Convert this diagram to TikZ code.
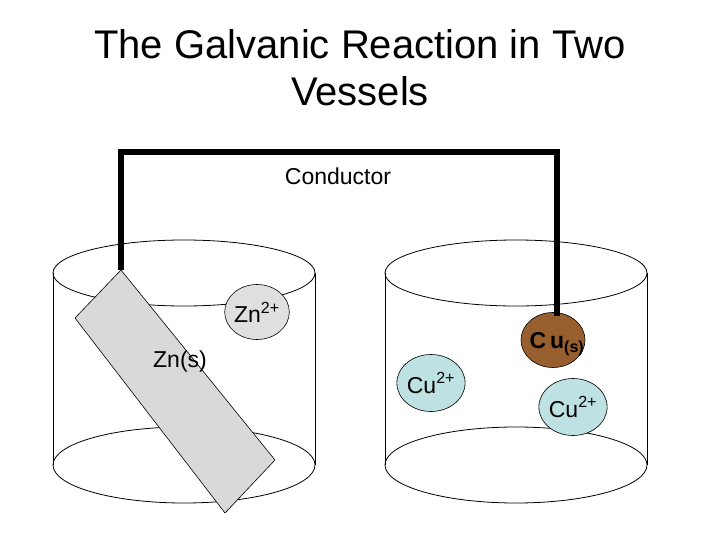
\documentclass[tikz,border=0pt]{standalone}
\usepackage{fontspec}
\setmainfont{Liberation Sans}
\usetikzlibrary{shapes.geometric}
\definecolor{cubrown}{RGB}{150,95,45}
\definecolor{cuion}{RGB}{190,225,228}
\begin{document}
\begin{tikzpicture}[x=1pt,y=-1pt,
  vessel/.style={draw=black,line width=0.8pt},
  lbl/.style={font=\fontsize{23}{25}\selectfont},
  ion/.style={ellipse,draw=black,line width=0.6pt,inner sep=0pt,lbl}]
\useasboundingbox (0,0) rectangle (720,540);
\node (title) at (360,68) [align=center,font=\fontsize{40}{47}\selectfont] {The Galvanic Reaction in Two\\Vessels};
% vessels
\foreach \cx in {184,516}{
  \draw[vessel] (\cx,273) ellipse (131 and 33);
  \draw[vessel] (\cx,465) ellipse (131 and 38);
  \draw[vessel] (\cx-131,273) -- (\cx-131,465) (\cx+131,273) -- (\cx+131,465);
}
% zinc bar
\draw[fill=gray!30,line width=0.6pt] (121,270) -- (275,460) -- (225,513) -- (75,318) -- cycle;
\node[lbl] (zns) at (180,362) {Zn(s)};
% conductor
\node[ion,fill=cubrown,minimum width=64pt,minimum height=55pt] (cus) at (553,340) {};
\node[lbl] (cuslabel) at (557,344) {\bfseries C\,u\textsubscript{(s)}};
\coordinate (zt) at (121,270);
\coordinate (cut) at (557,316);
\draw[line width=6pt] (zt) -- (121,152) -- (557,152) -- (cut);
\node[lbl] (cond) at (338,176) {Conductor};
\node[ion,fill=gray!25,minimum width=61pt,minimum height=55pt] (zn2) at (257,312) {Zn\textsuperscript{2+}};
\node[ion,fill=cuion,minimum width=63pt,minimum height=57pt] (cu1) at (431,383) {Cu\textsuperscript{2+}};
\node[ion,fill=cuion,minimum width=63pt,minimum height=57pt] (cu2) at (573,407) {Cu\textsuperscript{2+}};
\end{tikzpicture}
\end{document}
